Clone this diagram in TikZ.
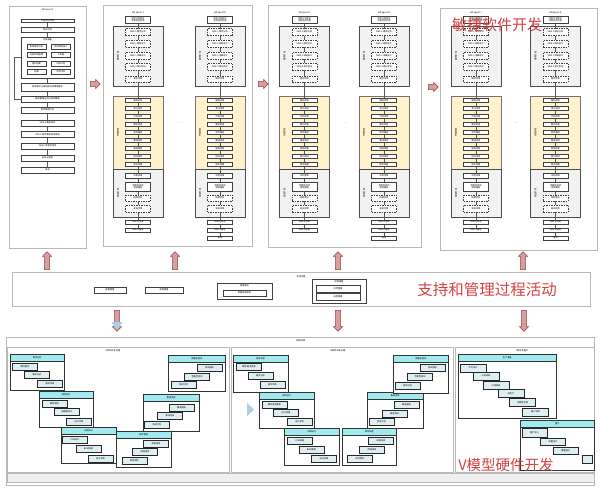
\documentclass[tikz,border=0pt]{standalone}
\usepackage{fontspec}
\setmainfont{Noto Sans CJK SC}
\usepackage{xcolor}
\usepackage{tikz}
\usetikzlibrary{positioning,shapes.arrows}

\definecolor{arrowfill}{RGB}{214,158,158}
\definecolor{arrowline}{RGB}{150,72,72}
\definecolor{headcyan}{RGB}{160,234,240}
\definecolor{stepfill}{RGB}{222,238,243}
\definecolor{devyellow}{RGB}{255,242,204}
\definecolor{secgray}{RGB}{242,242,242}
\definecolor{redtext}{RGB}{212,66,66}
\definecolor{tipblue}{RGB}{168,206,232}

\newcommand{\tinyfont}{\fontsize{2.2}{2.6}\selectfont}

\newcommand{\sprintcol}[5]{%
\begin{scope}[shift={(#2,0)}]
  \node[lbl] at (0,12.5) {#3};
  \node[sec, minimum height=60] (#1q) at (0,56) {};
  \node[devsec, minimum height=73] (#1d) at (0,132.5) {};
  \node[sec, minimum height=48] (#1v) at (0,193) {};
  \node[seclbl] at (-20,56) {需求阶段};
  \node[seclbl] at (-20,132.5) {开发阶段};
  \node[seclbl] at (-20,193) {验证阶段};
  \coordinate (#1s) at (0,19.5);
  \coordinate (#1e) at (0,#5);
  \draw[trunk] (#1s) -- (#1e);
  \node[bx, minimum height=7, line width=0.8pt] (#1t) at (0,19.5) {冲刺计划会议\\冲刺待办列表};
  \foreach \yy/\tx in {32/SWE.1 需求分析, 43.5/SWE.2 架构设计, 55.5/SWE.3 详细设计, 66.5/SWE.4 单元验证}
    \node[dbx, minimum height=7] at (0,\yy) {\tx};
  \node[dbx, minimum height=6] at (0,79) {需求评审};
  \foreach \yy/\tx in {100.5/编码实现, 108.5/单元测试, 116.5/代码评审, 124.5/静态检查, 132.5/软件集成, 140.5/集成测试, 148.5/缺陷修复, 156.5/回归测试, 164.5/版本构建}
    \node[bx] at (0,\yy) {\tx};
  \node[bx, minimum height=5] at (0,175.5) {冲刺评审};
  \node[bx, minimum height=9] at (0,186.5) {合格性测试\\测试报告};
  \node[dbx, minimum height=6] at (0,198) {回顾会议};
  \node[dbx, minimum height=7] at (0,208.5) {发布评审};
  \foreach \yy/\tx in {#4}
    \node[bx] at (0,\yy) {\tx};
\end{scope}}

\newcommand{\vstage}[6]{%
  \node[stagebox, minimum width=#4, minimum height=#5] (#1) at (#2,#3) {};
  \node[stagehead, minimum width=#4] (#1h) at (#2,#3) {#6};}

\begin{document}
\begin{tikzpicture}[x=1pt, y=-1pt,
    panel/.style={draw=gray!55, line width=0.6pt, fill=white, inner sep=0, anchor=north west},
    sec/.style={draw=black!70, line width=1pt, fill=secgray, minimum width=50, inner sep=0},
    devsec/.style={sec, fill=devyellow, draw=black!55},
    bx/.style={draw=black!75, line width=0.5pt, fill=white, minimum width=25, minimum height=4, inner sep=0, font=\tinyfont, align=center},
    dbx/.style={bx, line width=0.6pt, dash pattern=on 1.5pt off 1pt},
    lbl/.style={font=\tinyfont, inner sep=0},
    seclbl/.style={lbl, rotate=90},
    trunk/.style={draw=black!65, line width=0.8pt},
    blockarrow/.style={single arrow, draw=arrowline, fill=arrowfill, line width=0.5pt, inner xsep=0, inner ysep=2.3pt, minimum height=10, single arrow head extend=2pt, single arrow head indent=0pt},
    redlbl/.style={text=redtext, inner sep=0},
    stagebox/.style={draw=black!80, line width=0.8pt, fill=white, anchor=north west, inner sep=0},
    stagehead/.style={draw=black!80, line width=0.5pt, fill=headcyan, anchor=north west, minimum height=6.5, inner sep=0, font=\tinyfont},
    stepbx/.style={draw=black!85, line width=0.7pt, fill=stepfill, minimum width=25, minimum height=7, inner sep=0, font=\tinyfont, align=center}
]
\useasboundingbox (0,0) rectangle (600,488);
\fill[white] (0,0) rectangle (600,488);

\node[panel, minimum width=77, minimum height=242] (p1) at (9,6) {};
\node[panel, minimum width=149, minimum height=241] (p2) at (103,5) {};
\node[panel, minimum width=153, minimum height=242] (p3) at (268,5) {};
\node[panel, minimum width=157, minimum height=242] (p4) at (440,8) {};

\node[lbl] at (47.5,10) {SW Sprint 0};
\coordinate (c0s) at (47.5,21);
\coordinate (c0e) at (47.5,170);
\draw[trunk] (c0s) -- (c0e);
\node[bx, minimum width=53, minimum height=3.5] (a1) at (47.5,20.7) {产品待办列表};
\node[bx, minimum width=53, minimum height=5] (a2) at (47.5,29.5) {发布计划};
\node[bx, line width=0.9pt, minimum width=53, minimum height=41] (a3) at (47.5,57.5) {};
\node[lbl] at (47.5,40) {开发准备};
\foreach \xx/\yy/\tx in {36.5/46.5/系统需求分析, 61/46.5/系统架构设计, 36.5/55/开发环境搭建, 61/55/工具链, 36.5/63.5/团队组建, 61/63.5/培训计划, 36.5/71.5/估算, 61/71.5/风险识别}
  \node[bx, minimum width=19, minimum height=5] at (\xx,\yy) {\tx};
\node[bx, line width=0.9pt, minimum width=53, minimum height=8] (a4) at (47.5,87) {软件需求与架构及测试策略基线};
\node[bx, line width=0.9pt, minimum width=53, minimum height=6] (a5) at (47.5,99) {集成策略与回归测试策略};
\foreach \yy/\tx [count=\k from 6] in {110/软件集成计划, 123/SWE.5 集成测试, 134.5/SWE.5 软件集成测试报告, 146/SWE.6 合格性测试, 158/SWE.6 报告, 170/发布}
  \node[bx, minimum width=53, minimum height=6] (a\k) at (47.5,\yy) {\tx};
\draw[trunk, line width=0.6pt] (a5.west) -- ++(-6,0) |- (a3.west);

\sprintcol{pa}{138}{SW Sprint 1}{222/SWE.6 测试, 230/SWE.6 报告}{230}
\sprintcol{pb}{220}{SW Sprint N}{222/SWE.6 测试, 230/SWE.6 报告, 238/发布}{238}
\sprintcol{pc}{304.5}{SW Sprint 1}{222/SWE.6 测试, 230/SWE.6 报告}{230}
\sprintcol{pd}{384}{SW Sprint N}{222/SWE.6 测试, 230/SWE.6 报告, 238/发布}{238}
\sprintcol{pe}{476}{SW Sprint 1}{222/SWE.6 测试, 230/SWE.6 报告}{230}
\sprintcol{pf}{555.5}{SW Sprint N}{222/SWE.6 测试, 230/SWE.6 报告, 238/发布}{238}

\foreach \xx in {179,345,517}
  \node[lbl, text=black!60, font=\fontsize{4}{4}\selectfont] at (\xx,123) {...};

\node[blockarrow] (r1) at (94,84) {};
\node[blockarrow] (r2) at (262,84) {};
\node[blockarrow] (r3) at (432,87) {};

\node[panel, minimum width=578, minimum height=34] (sup) at (12,272) {};
\node[lbl] at (301,277) {支持过程};
\node[bx, minimum width=32, minimum height=6] (s1) at (110,290) {配置管理};
\node[bx, minimum width=38, minimum height=6] (s2) at (164,290) {变更管理};
\node[bx, line width=0.9pt, minimum width=55, minimum height=16] (s3) at (244.5,291) {};
\node[lbl] at (244.5,285.5) {质量保证};
\node[bx, minimum width=43, minimum height=6] (s3a) at (244.5,293) {质量保证审核};
\node[bx, line width=0.9pt, minimum width=54, minimum height=24] (s4) at (339,291) {};
\node[lbl] at (339,282) {项目管理};
\node[bx, minimum width=44, minimum height=6.5] (s4a) at (338,288.5) {风险管理};
\node[bx, minimum width=44, minimum height=6.5] (s4b) at (338,296.5) {进度管理};
\node[redlbl, font=\fontsize{15.5}{16}\selectfont] at (487,290) {支持和管理过程活动};

\foreach \xx in {47,175,338,523}
  \node[blockarrow, rotate=90, minimum height=18] at (\xx,262) {};
\foreach \xx in {117,338,524}
  \node[blockarrow, rotate=-90, minimum height=21] at (\xx,319.5) {};
\fill[tipblue] (111.5,322) -- (122.5,322) -- (117,330) -- cycle;

\node[panel, minimum width=588, minimum height=148] (hw) at (6,337) {};
\node[lbl] at (301,341) {硬件开发};
\node[panel, minimum width=222, minimum height=125] (v1) at (7,347) {};
\node[panel, minimum width=222, minimum height=125] (v2) at (231,347) {};
\node[panel, minimum width=139, minimum height=125] (v3) at (455,347) {};
\node[panel, fill=gray!12, minimum width=587, minimum height=9] (strip) at (7,473) {};
\node[lbl] at (113,351) {A样件开发过程};
\node[lbl] at (338,351) {B样件开发过程};
\node[lbl] at (522,351) {C样件及量产};

\vstage{va1}{10}{354}{54}{36}{需求分析}
\vstage{va2}{39}{391}{54}{36}{架构设计}
\vstage{va3}{61}{427}{55}{36}{详细设计}
\vstage{va4}{116}{431}{55}{36}{样件制造}
\vstage{va5}{143}{394}{56}{37}{集成测试}
\vstage{va6}{168}{355}{57}{36}{合格性测试}
\foreach \xx/\yy/\tx in {25/366.5/硬件需求, 37/375/需求分析, 50/383.5/需求评审,
    54.5/403.5/硬件架构, 67/412/原理图设计, 79/421.5/设计评审,
    75/440/PCB设计, 88.5/448.5/BOM清单, 100.5/458.5/设计评审,
    156/443.5/单板测试, 145/452/焊接调试, 134.5/460.5/样件制作,
    181.5/407.5/集成报告, 170/416/集成测试, 157/424.5/测试计划,
    209.5/368/测试报告, 197/376.5/合格性测试, 183.5/384.5/测试计划}
  \node[stepbx] at (\xx,\yy) {\tx};

\vstage{vb1}{233}{355}{55}{37}{需求分析}
\vstage{vb2}{259}{392}{55}{36}{架构设计}
\vstage{vb3}{284}{428}{55}{37}{详细设计}
\vstage{vb4}{342}{428}{54}{37}{样件制造}
\vstage{vb5}{367}{392}{56}{36}{集成测试}
\vstage{vb6}{393}{355}{55}{38}{合格性测试}
\foreach \xx/\yy/\tx in {249/367/硬件需求变更, 260.5/376/需求分析, 272.5/385/需求评审,
    274.5/404.5/硬件架构更新, 286/413/设计变更, 299.5/422/设计评审,
    300/440.5/PCB改版, 311.5/450/BOM更新, 324/458.5/设计评审,
    381/440.5/单板测试, 372/449.5/焊接调试, 360/458.5/样件制作,
    406.5/404.5/集成报告, 394.5/413.5/集成测试, 381.5/422/测试计划,
    432.5/368/测试报告, 420/377/合格性测试, 407.5/386/测试计划}
  \node[stepbx] at (\xx,\yy) {\tx};

\vstage{vc1}{458}{354}{98}{64}{生产准备}
\vstage{vc2}{520}{420}{74}{50}{量产}
\foreach \xx/\yy/\tx in {473/368/工艺设计, 486/376/工装夹具, 496/385.5/产线验证,
    511/393.5/试生产, 522.5/402.5/可靠性试验, 535.5/412/量产评审}
  \node[stepbx, minimum width=26, minimum height=8] at (\xx,\yy) {\tx};
\node[stepbx, minimum height=9] at (534.5,432.5) {量产导入};
\node[stepbx] at (553,442) {批量生产};
\node[stepbx] at (565.5,451) {质量监控};
\node[stepbx, minimum width=10, minimum height=8] at (587,459) {};

\fill[tipblue] (247,403) -- (254,409.5) -- (247,416) -- cycle;

\node[redlbl, font=\fontsize{15}{15}\selectfont] at (497,25) {敏捷软件开发};
\node[redlbl, font=\fontsize{14.5}{15}\selectfont] at (506,465) {V模型硬件开发};
\end{tikzpicture}
\end{document}
